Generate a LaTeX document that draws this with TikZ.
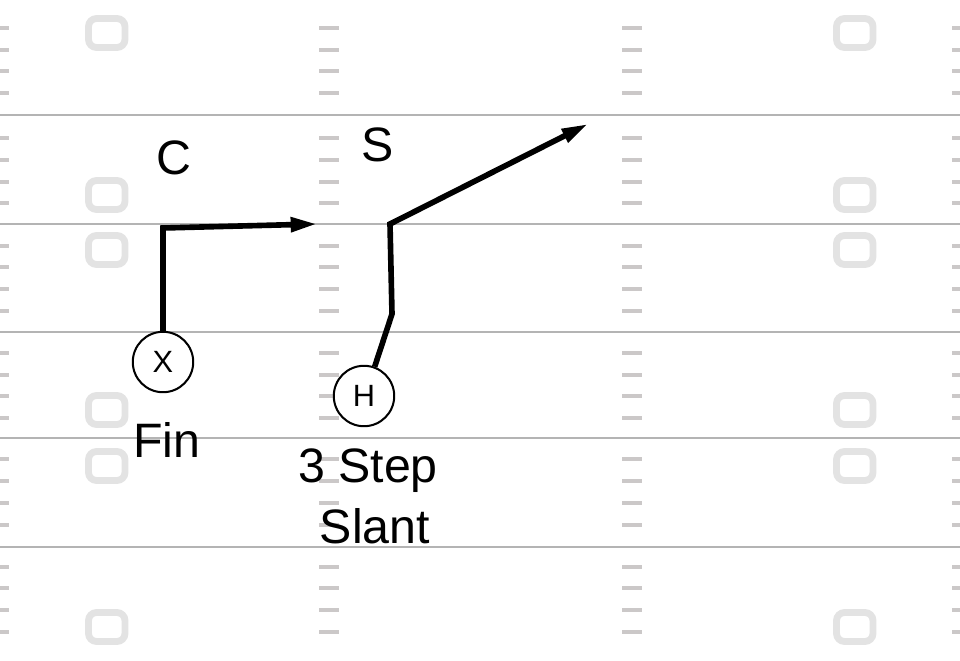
\documentclass[tikz,border=0pt]{standalone}
\usepackage{fontspec}
\setmainfont{Liberation Sans}
\usetikzlibrary{arrows.meta}

\definecolor{yardgray}{HTML}{B4B4B4}
\definecolor{tickgray}{HTML}{CBC8C8}
\definecolor{hashgray}{HTML}{E3E3E3}

\tikzset{
  yardline/.style={yardgray, line width=1.4pt},
  tickmark/.style={tickgray, line width=2.2pt},
  hashmark/.style={hashgray, line width=3.9pt, rounded corners=4.6pt},
  player/.style={circle, draw, fill=white, line width=1.15pt, minimum size=34.4pt, inner sep=0pt, font=\fontsize{17.5}{20}\selectfont},
  route/.style={line width=3.2pt, line join=miter, -{Triangle[length=15pt, width=8pt]}},
  playtext/.style={inner sep=0pt, font=\fontsize{27.5}{31}\selectfont}
}

\begin{document}
\begin{tikzpicture}[x=0.02cm, y=-0.02cm]

\useasboundingbox (0,0) rectangle (960,660);

% Yard lines
\foreach \y in {115,224,332,438,547}
  \draw [yardline] (0,\y)--(960,\y);

% Short ticks, four in every band
\foreach \y in {28,50,71,93,138,160,182,203,246,267,289,311,353,375,396,418,459,481,503,525,567,588,610,632} {
  \draw [tickmark] (0,\y)--(9,\y);
  \draw [tickmark] (319,\y)--(339,\y);
  \draw [tickmark] (622,\y)--(642,\y);
  \draw [tickmark] (952,\y)--(960,\y);
}

% Hash marks on both sides
\foreach \y in {33,195,250,410,466,627} {
  \draw [hashmark] (88.5,\y-14.5) rectangle (125,\y+14.5);
  \draw [hashmark] (836.5,\y-14.5) rectangle (873,\y+14.5);
}

% Players
\node [player] (x) at (163,362) {X};
\node [player] (h) at (364,396) {H};

% Route corners and ends
\coordinate (xturn) at (163,228);
\coordinate (xend) at (317,224);
\coordinate (hbend) at (392,314);
\coordinate (hturn) at (390,224);
\coordinate (hend) at (588,124);

% Fin route
\draw [route] (x.north)--(xturn)--(xend);

% Slant route
\draw [route] (h.70)--(hbend)--(hturn)--(hend);

% Labels
\node [playtext] (c) at (173.5,158) {C};
\node [playtext] (s) at (378,145) {S};
\node [playtext] (fin) at (167,440) {Fin};
\node [playtext] (step) at (368,471) {3 Step};
\node [playtext] (slant) at (375,526) {Slant};

\end{tikzpicture}
\end{document}
